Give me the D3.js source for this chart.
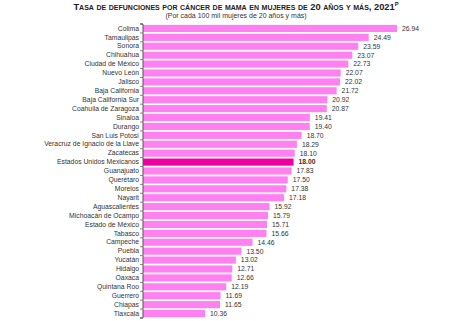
<!DOCTYPE html>
<html><head><meta charset="utf-8">
<script src="https://cdn.jsdelivr.net/npm/d3@7"></script>
<style>
body{margin:0;background:#fff;}
svg{display:block;font-family:"Liberation Sans",Arial,sans-serif;}
</style></head>
<body>
<div id="chart"></div>
<script>
const categories = ["Colima","Tamaulipas","Sonora","Chihuahua","Ciudad de México","Nuevo León","Jalisco","Baja California","Baja California Sur","Coahuila de Zaragoza","Sinaloa","Durango","San Luis Potosí","Veracruz de Ignacio de la Llave","Zacatecas","Estados Unidos Mexicanos","Guanajuato","Querétaro","Morelos","Nayarit","Aguascalientes","Michoacán de Ocampo","Estado de México","Tabasco","Campeche","Puebla","Yucatán","Hidalgo","Oaxaca","Quintana Roo","Guerrero","Chiapas","Tlaxcala"];
const values = [26.94,24.49,23.59,23.07,22.73,22.07,22.02,21.72,20.92,20.87,19.41,19.40,18.70,18.29,18.10,18.00,17.83,17.50,17.38,17.18,15.92,15.79,15.71,15.66,14.46,13.50,13.02,12.71,12.66,12.19,11.69,11.65,10.36];
const highlight = "Estados Unidos Mexicanos";
const titleText = "Tasa de defunciones por cáncer de mama en mujeres de 20 años y más, 2021";
const subtitleText = "(Por cada 100 mil mujeres de 20 años y más)";

const W = 474, H = 321;
const svg = d3.select("#chart").append("svg").attr("width", W).attr("height", H);

const x = d3.scaleLinear().domain([5, 30]).range([143, 432.5]);
const y = d3.scaleBand().domain(categories).range([24, 318]).paddingInner(0.2).paddingOuter(0.1);

const data = categories.map((c, i) => ({c, v: values[i]}));

// title
const t = svg.append("text").attr("x", 236).attr("y", 9.5).attr("text-anchor", "middle")
  .attr("font-size", 9.3).attr("font-weight", "bold").attr("fill", "#222")
  .style("font-variant", "small-caps").text(titleText);
t.append("tspan").attr("font-size", 5.8).attr("dy", -3.5).style("font-variant","normal").text("P");

svg.append("text").attr("x", 236).attr("y", 17.5).attr("text-anchor", "middle")
  .attr("font-size", 7).attr("fill", "#333").text(subtitleText);

// bars
svg.append("g").selectAll("rect").data(data).join("rect")
  .attr("x", x(5)).attr("y", d => y(d.c))
  .attr("width", d => x(d.v) - x(5)).attr("height", y.bandwidth())
  .attr("fill", d => d.c === highlight ? "#EE00A0" : "#FF80F0");

// value labels
svg.append("g").selectAll("text").data(data).join("text")
  .attr("x", d => x(d.v) + 5).attr("y", d => y(d.c) + y.bandwidth() / 2)
  .attr("dy", "0.35em").attr("font-size", 6.8).attr("fill", "#333")
  .attr("font-weight", d => d.c === highlight ? "bold" : "normal")
  .text(d => d3.format(".2f")(d.v));

// axis
const axis = d3.axisLeft(y).tickSize(0).tickPadding(4);
const g = svg.append("g").attr("transform", `translate(${x(5)},0)`).call(axis);
g.select(".domain").attr("stroke", "#555").attr("d", `M-3,${y.range()[0]}H0V${y.range()[1]}H-3`);
g.selectAll(".tick text").attr("font-size", 6.8).attr("fill", "#333").attr("font-family", "Liberation Sans, Arial, sans-serif");
// boundary ticks
const step = y.step();
const bounds = d3.range(categories.length + 1).map(i => y.range()[0] + i * step);
g.append("g").selectAll("line").data(bounds).join("line")
  .attr("x1", -3).attr("x2", 0).attr("y1", d => d).attr("y2", d => d)
  .attr("stroke", "#555").attr("stroke-width", 0.7);
</script>
</body></html>
